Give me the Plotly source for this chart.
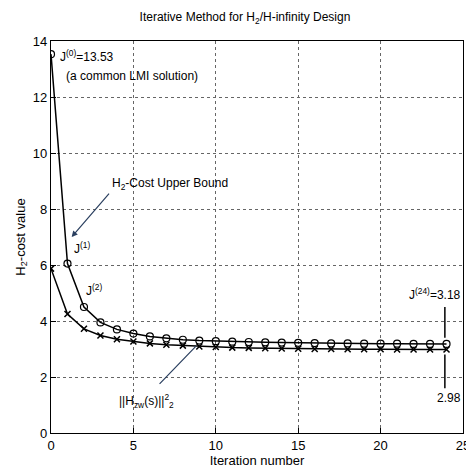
import plotly.graph_objects as go

iters = list(range(25))
upper = [13.53, 6.05, 4.5, 3.95, 3.7, 3.55, 3.45, 3.38, 3.33, 3.3, 3.28, 3.26, 3.25,
         3.24, 3.23, 3.22, 3.21, 3.2, 3.2, 3.19, 3.19, 3.19, 3.18, 3.18, 3.18]
lower = [5.87, 4.25, 3.72, 3.48, 3.35, 3.27, 3.2, 3.15, 3.12, 3.09, 3.07, 3.05, 3.04,
         3.03, 3.02, 3.01, 3.0, 3.0, 2.99, 2.99, 2.99, 2.98, 2.98, 2.98, 2.98]

F = "Liberation Sans"
fig = go.Figure()
fig.add_trace(go.Scatter(x=iters, y=upper, mode="lines+markers",
    line=dict(color="black", width=1.5),
    marker=dict(symbol="circle-open", size=7, color="black", line=dict(width=1.2))))
fig.add_trace(go.Scatter(x=iters, y=lower, mode="lines+markers",
    line=dict(color="black", width=1.5),
    marker=dict(symbol="x-thin", size=6, color="black", line=dict(width=1.5, color="black"))))

ann = [
    dict(x=0.4, y=13.45, text="J<sup>(0)</sup>=13.53", xanchor="left", yanchor="middle"),
    dict(x=0.8, y=12.75, text="(a common LMI solution)", xanchor="left", yanchor="middle"),
    dict(x=3.6, y=8.9, text="H<sub>2</sub>-Cost Upper Bound", xanchor="left", yanchor="middle"),
    dict(x=1.3, y=6.6, text="J<sup>(1)</sup>", xanchor="left", yanchor="middle"),
    dict(x=2.0, y=5.1, text="J<sup>(2)</sup>", xanchor="left", yanchor="middle"),
    dict(x=-0.1, y=5.6, text="5.87", xanchor="center", yanchor="middle"),
    dict(x=25.0, y=4.95, text="J<sup>(24)</sup>=3.18", xanchor="right", yanchor="middle"),
    dict(x=25.0, y=1.25, text="2.98", xanchor="right", yanchor="middle"),
    dict(x=5.8, y=1.15, text="||H<sub>zw</sub>(s)||<sup>2</sup><sub>2</sub>", xanchor="center", yanchor="middle"),
]
for a in ann:
    a = dict(a)
    a.update(showarrow=False, font=dict(family=F, size=12, color="black"))
    fig.add_annotation(**a)

fig.add_annotation(x=1.25, y=7.0, ax=3.6, ay=8.6, xref="x", yref="y", axref="x", ayref="y",
                   showarrow=True, arrowhead=2, arrowsize=1, arrowwidth=1.2, text="")
fig.add_annotation(x=8.8, y=3.1, ax=6.5, ay=1.7, xref="x", yref="y", axref="x", ayref="y",
                   showarrow=True, arrowhead=0, arrowwidth=1.2, text="")
fig.add_shape(type="line", x0=23.9, x1=23.9, y0=3.4, y1=4.5, line=dict(color="black", width=1.5))
fig.add_shape(type="line", x0=23.9, x1=23.9, y0=1.6, y1=2.8, line=dict(color="black", width=1.5))

axis = dict(showline=True, linecolor="black", linewidth=1.2, mirror=True, ticks="inside",
            ticklen=5, tickcolor="black", showgrid=True, gridcolor="#666", griddash="dot",
            gridwidth=1, zeroline=False, tickfont=dict(family=F, size=13, color="black"))
fig.update_xaxes(range=[0, 25], dtick=5, title=dict(text="Iteration number", standoff=2,
                 font=dict(family=F, size=13, color="black")), **axis)
fig.update_yaxes(range=[0, 14], dtick=2, title=dict(text="H<sub>2</sub>-cost value", standoff=4,
                 font=dict(family=F, size=13, color="black")), **axis)
fig.update_layout(width=474, height=468, showlegend=False, plot_bgcolor="white", paper_bgcolor="white",
                  margin=dict(l=32, r=14, t=33, b=38),
                  title=dict(text="Iterative Method for H<sub>2</sub>/H-infinity Design", x=0.5, y=0.99,
                             xanchor="center", yanchor="top", font=dict(family=F, size=12, color="black")))
fig.write_html("out.html")
